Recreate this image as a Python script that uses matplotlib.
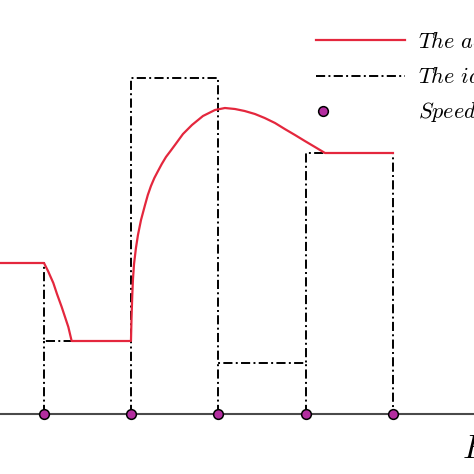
import numpy as np
import matplotlib
matplotlib.use("Agg")
import matplotlib.pyplot as plt
from matplotlib.legend_handler import HandlerLine2D
from matplotlib.lines import Line2D

plt.rcParams['mathtext.fontset'] = 'cm'

# speed points (segment boundaries)
point_x = [1, 2, 3, 4, 5]
point_y = [0, 0, 0, 0, 0]

# ideal speed: step levels over segments
ideal_edges = [0.4957, 1, 2, 3, 4, 5]
ideal_levels = [151, 73, 336, 51, 261]

# actual speed curve
actual_x = [0.4957, 1.000, 1.046, 1.107, 1.149, 1.203, 1.241, 1.279, 1.317,
            1.997, 2.003, 2.012, 2.020, 2.032, 2.054, 2.077, 2.112, 2.158,
            2.190, 2.226, 2.265, 2.307, 2.350, 2.398, 2.450, 2.501, 2.593,
            2.696, 2.822, 2.960, 3.074, 3.189, 3.300, 3.418, 3.530, 3.648,
            3.760, 3.877, 3.990, 4.106, 4.221, 5.000]
actual_y = [151, 151, 143, 131, 120, 107, 97, 87, 73,
            73, 95, 119, 135, 150, 166, 179, 194, 209,
            219, 228, 236, 243, 250, 257, 263, 269, 280,
            289, 298, 304, 306, 305, 303, 300, 296, 291,
            285, 279, 273, 267, 261, 261]

labels = ["$The\\ actual\\ speed$", "$The\\ ideal\\ speed$", "$Speed\\ points$"]
xlabel = "$Position$"

red = '#e4273d'
purple = '#b32d9f'

fig = plt.figure(figsize=(4.74, 4.74), dpi=100)
ax = fig.add_axes([0, 0, 1, 1])
ax.set_xlim(0.4957, 5.929)
ax.set_ylim(-60, 414)
ax.axis('off')

ax.axhline(0, color='#4a4a4a', lw=1.5, zorder=1)

dash = (0, (4.7, 1.7, 1.0, 1.7))
step_x = []
step_y = []
for i, lev in enumerate(ideal_levels):
    step_x += [ideal_edges[i], ideal_edges[i + 1]]
    step_y += [lev, lev]
step_x.append(ideal_edges[-1])
step_y.append(0)
ideal_line, = ax.plot(step_x, step_y, color='black', lw=1.4, linestyle=dash, zorder=2)
for i, xb in enumerate(point_x):
    left = ideal_levels[i]
    right = ideal_levels[i + 1] if i + 1 < len(ideal_levels) else 0
    low = min(left, right)
    if low > 0:
        ax.plot([xb, xb], [0, low], color='black', lw=1.4, linestyle=dash, zorder=2)

actual_line, = ax.plot(actual_x, actual_y, color=red, lw=1.6, zorder=3)
ax.plot(point_x, point_y, 'o', ms=7, mfc=purple, mec='black', mew=1.1, zorder=4)

pts_proxy = Line2D([], [], ls='none', marker='o', ms=7, mfc=purple, mec='black', mew=1.1)


class LeftMarker(HandlerLine2D):
    def get_xdata(self, legend, xdescent, ydescent, width, height, fontsize):
        x0 = -xdescent + 0.08 * width
        return [x0], [x0]


leg = fig.legend([actual_line, ideal_line, pts_proxy], labels,
                 loc='upper left', bbox_to_anchor=(0.625, 0.982),
                 frameon=False, fontsize=16, handlelength=4.0,
                 handletextpad=0.6, labelspacing=0.49, borderpad=0.4,
                 handler_map={pts_proxy: LeftMarker(numpoints=1)})

fig.text(462 / 474, 0.034, xlabel, fontsize=24, ha='left', va='baseline')

fig.savefig('out.png', dpi=100)
